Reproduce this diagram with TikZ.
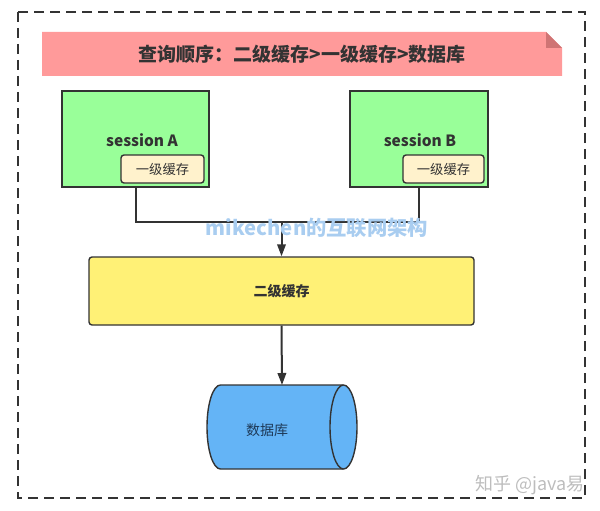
\documentclass[tikz,border=0pt]{standalone}
\usepackage{fontspec}
\newfontfamily\cjk{Noto Sans CJK SC}
\usetikzlibrary{arrows.meta}
\definecolor{frame}{HTML}{333333}
\definecolor{banner}{HTML}{FF9A9A}
\definecolor{fold}{HTML}{CF7474}
\definecolor{sess}{HTML}{99FF99}
\definecolor{cache}{HTML}{FFF2CC}
\definecolor{ltwo}{HTML}{FFF176}
\definecolor{dbfill}{HTML}{64B4F6}
\definecolor{dbtext}{HTML}{1E3A58}
\definecolor{wmblue}{HTML}{A9CDF0}
\definecolor{wmgrey}{HTML}{BDBDBD}
\tikzset{
  sessbox/.style={draw=frame, line width=1.4pt, fill=sess, minimum width=147pt, minimum height=96pt, inner sep=0pt},
  cachebox/.style={draw=frame, line width=1.4pt, fill=cache, rounded corners=3pt, minimum width=83pt, minimum height=28pt, inner sep=0pt, font=\cjk\fontsize{13.3}{15}\selectfont, text=frame},
  ltwobox/.style={draw=frame, line width=1.4pt, fill=ltwo, rounded corners=3pt, minimum width=385pt, minimum height=68pt, inner sep=0pt, font=\cjk\bfseries\fontsize{14}{16}\selectfont, text=frame},
  conn/.style={draw=frame, line width=2pt},
  arr/.style={conn, -{Triangle[length=12pt,width=8.5pt]}},
  lbl/.style={font=\cjk\bfseries\fontsize{15.5}{17}\selectfont, text=frame},
  dbshape/.style={draw=frame, line width=1.4pt, fill=dbfill}
}
\begin{document}
\begin{tikzpicture}[x=1pt,y=-1pt]
\useasboundingbox (0,0) rectangle (600,511);
% outer dashed frame
\draw[frame, line width=1.6pt, dash pattern=on 10pt off 6pt] (18,12) rectangle (585,498);
% banner
\fill[banner] (42,32) -- (546,32) -- (562,48) -- (562,76) -- (42,76) -- cycle;
\fill[fold] (546,32) -- (562,48) -- (546,48) -- cycle;
\node[font=\cjk\bfseries\fontsize{19}{21}\selectfont, text=frame] (title) at (302,54) {查询顺序：二级缓存>一级缓存>数据库};
% sessions
\node[sessbox] (sA) at (135.5,139) {};
\node[lbl] (sAl) at (142,140) {session A};
\node[cachebox] (cA) at (162.5,169) {一级缓存};
\node[sessbox, minimum width=138pt] (sB) at (419,139) {};
\node[lbl] (sBl) at (420,140) {session B};
\node[cachebox, minimum width=81pt] (cB) at (443.5,169) {一级缓存};
% level two cache
\node[ltwobox] (l2) at (281.5,291) {二级缓存};
% database (horizontal cylinder)
\draw[dbshape] (220.5,385) -- (343.5,385)
  arc[start angle=90, end angle=-90, x radius=13.5pt, y radius=42pt]
  -- (220.5,469)
  arc[start angle=-90, end angle=-270, x radius=13.5pt, y radius=42pt] -- cycle;
\draw[dbshape, fill=none] (343.5,385) arc[start angle=90, end angle=270, x radius=13.5pt, y radius=42pt];
\coordinate (dbtop) at (282,385);
\node[font=\cjk\fontsize{14}{16}\selectfont, text=dbtext] (dbl) at (267,430) {数据库};
% connectors
\coordinate (jn) at (0,222);
\draw[conn] (sA.south) -- (sA.south |- jn) -- (sB.south |- jn) -- (sB.south);
\draw[arr] (l2.north |- jn) -- (l2.north);
\draw[arr] (l2.south) -- (dbtop);
% watermarks
\node[font=\cjk\bfseries\fontsize{20.3}{22}\selectfont, text=wmblue] (wm1) at (317,228) {mikechen的互联网架构};
\node[font=\cjk\fontsize{18}{20}\selectfont, text=wmgrey] (wm2) at (530,485) {知乎 @java易};
\end{tikzpicture}
\end{document}
